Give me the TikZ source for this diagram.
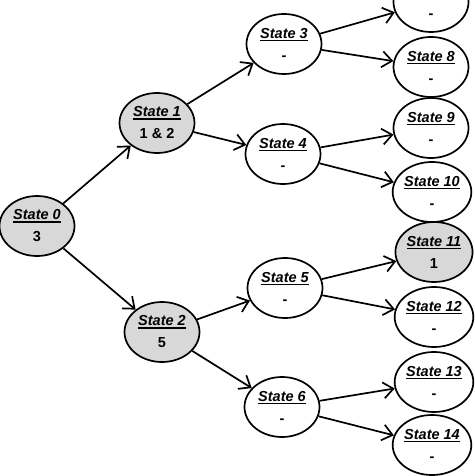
\documentclass[tikz,border=0pt]{standalone}
\usepackage{fontspec}
\setmainfont{Liberation Sans}
\usetikzlibrary{shapes.geometric,arrows.meta}
\definecolor{stgray}{RGB}{216,216,216}
\newcommand{\stul}[1]{\setbox0\hbox{\bfseries\itshape #1}\rlap{\raisebox{-3pt}{\rule{\wd0}{1.5pt}}}\box0}
\tikzset{
  st/.style={ellipse, draw=black, line width=1.7pt, fill=white, minimum width=75pt, minimum height=60pt, inner sep=0pt, align=center, font=\fontsize{14.5}{22}\selectfont},
  stg/.style={st, fill=stgray},
  arr/.style={line width=1.7pt, -{Straight Barb[length=10pt,width=16pt,line width=1.7pt]}}
}
\begin{document}
\begin{tikzpicture}[x=1pt,y=-1pt]
\useasboundingbox (0,0) rectangle (474,476);
\clip (0,0) rectangle (474,476);
\node[stg] (s0) at (37,226) {\stul{State 0}\\ \textbf{3}};
\node[stg] (s1) at (157,123) {\stul{State 1}\\ \textbf{1 \& 2}};
\node[stg] (s2) at (162,332) {\stul{State 2}\\ \textbf{5}};
\node[st] (s3) at (284,44) {\stul{State 3}\\ \textbf{-}};
\node[st] (s4) at (283,154) {\stul{State 4}\\ \textbf{-}};
\node[st] (s5) at (285,288) {\stul{State 5}\\ \textbf{-}};
\node[st] (s6) at (282,407) {\stul{State 6}\\ \textbf{-}};
\node[st] (s7) at (431,2) {\stul{State 7}\\ \textbf{-}};
\node[st] (s8) at (431,67) {\stul{State 8}\\ \textbf{-}};
\node[st] (s9) at (431,128) {\stul{State 9}\\ \textbf{-}};
\node[st] (s10) at (432,192) {\stul{State 10}\\ \textbf{-}};
\node[stg] (s11) at (434,252) {\stul{State 11}\\ \textbf{1}};
\node[st] (s12) at (434,317) {\stul{State 12}\\ \textbf{-}};
\node[st] (s13) at (434,382) {\stul{State 13}\\ \textbf{-}};
\node[st] (s14) at (432,445) {\stul{State 14}\\ \textbf{-}};
\draw[arr] (s0) -- (s1);
\draw[arr] (s0) -- (s2);
\draw[arr] (s1) -- (s3);
\draw[arr] (s1) -- (s4);
\draw[arr] (s2) -- (s5);
\draw[arr] (s2) -- (s6);
\draw[arr] (s3) -- (s7);
\draw[arr] (s3) -- (s8);
\draw[arr] (s4) -- (s9);
\draw[arr] (s4) -- (s10);
\draw[arr] (s5) -- (s11);
\draw[arr] (s5) -- (s12);
\draw[arr] (s6) -- (s13);
\draw[arr] (s6) -- (s14);
\end{tikzpicture}
\end{document}
